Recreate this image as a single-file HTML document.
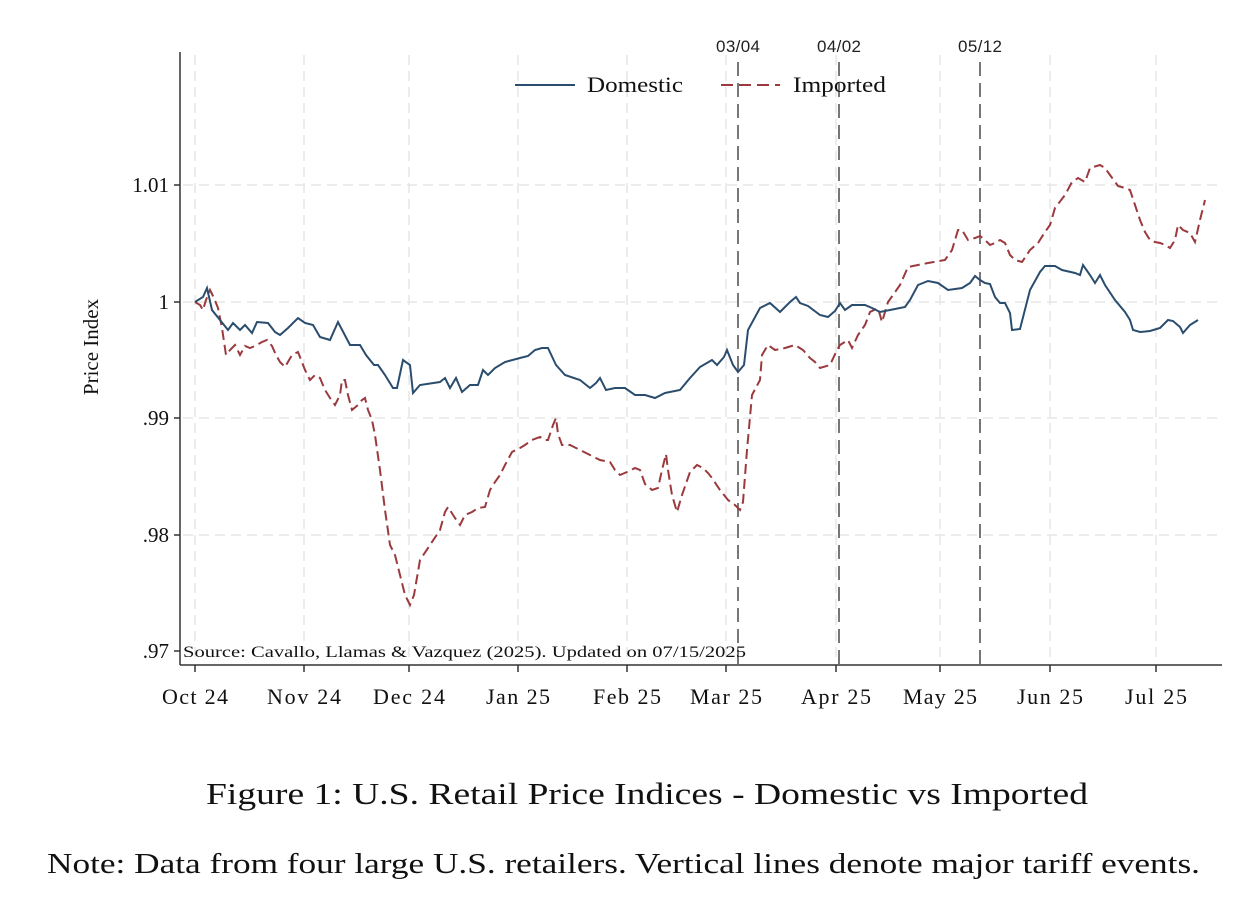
<!DOCTYPE html>
<html><head><style>body{margin:0;background:#fff}</style></head><body>
<svg width="1260" height="907" xmlns="http://www.w3.org/2000/svg" style="display:block">
<rect width="1260" height="907" fill="#fff"/>
<g stroke="#e6e6e6" stroke-width="1.5" stroke-dasharray="10,6">
<line x1="183" x2="1222" y1="185" y2="185"/><line x1="183" x2="1222" y1="302" y2="302"/><line x1="183" x2="1222" y1="418" y2="418"/><line x1="183" x2="1222" y1="535" y2="535"/>
<line x1="195" x2="195" y1="55" y2="663"/><line x1="304" x2="304" y1="55" y2="663"/><line x1="409" x2="409" y1="55" y2="663"/><line x1="518" x2="518" y1="55" y2="663"/><line x1="627" x2="627" y1="55" y2="663"/><line x1="726" x2="726" y1="55" y2="663"/><line x1="836" x2="836" y1="55" y2="663"/><line x1="940" x2="940" y1="55" y2="663"/><line x1="1050" x2="1050" y1="55" y2="663"/><line x1="1156" x2="1156" y1="55" y2="663"/>
</g>
<g stroke="#777" stroke-width="2" stroke-dasharray="14,7">
<line x1="738" x2="738" y1="62" y2="665"/><line x1="839" x2="839" y1="62" y2="665"/><line x1="980" x2="980" y1="62" y2="665"/>
</g>
<g stroke="#333" stroke-width="1.5" fill="none">
<line x1="180" x2="180" y1="52" y2="665"/><line x1="180" x2="1222" y1="665" y2="665"/>
<line x1="174" x2="180" y1="185" y2="185"/><line x1="174" x2="180" y1="302" y2="302"/><line x1="174" x2="180" y1="418" y2="418"/><line x1="174" x2="180" y1="535" y2="535"/><line x1="174" x2="180" y1="651" y2="651"/>
<path d="M195 665v7M304 665v7M409 665v7M518 665v7M627 665v7M726 665v7M836 665v7M940 665v7M1050 665v7M1156 665v7"/>
</g>
<g font-family="Liberation Serif, serif" font-size="21" fill="#111">
<text x="169" y="192" text-anchor="end">1.01</text><text x="169" y="309" text-anchor="end">1</text><text x="169" y="425" text-anchor="end">.99</text><text x="169" y="542" text-anchor="end">.98</text><text x="169" y="658" text-anchor="end">.97</text>
<g font-size="22" text-anchor="middle" lengthAdjust="spacingAndGlyphs"><text x="195" y="704" textLength="66">Oct 24</text><text x="304" y="704" textLength="74">Nov 24</text><text x="409" y="704" textLength="72">Dec 24</text><text x="518" y="704" textLength="64">Jan 25</text><text x="627" y="704" textLength="68">Feb 25</text><text x="726" y="704" textLength="72">Mar 25</text><text x="836" y="704" textLength="70">Apr 25</text><text x="940" y="704" textLength="74">May 25</text><text x="1050" y="704" textLength="66">Jun 25</text><text x="1156" y="704" textLength="62">Jul 25</text></g>
<text transform="translate(98,347) rotate(-90)" text-anchor="middle">Price Index</text>
<text x="587" y="92" font-size="22" textLength="96" lengthAdjust="spacingAndGlyphs">Domestic</text><text x="793" y="92" font-size="22" textLength="93" lengthAdjust="spacingAndGlyphs">Imported</text>
<text x="183" y="657" font-size="16" textLength="563" lengthAdjust="spacingAndGlyphs">Source: Cavallo, Llamas &amp; Vazquez (2025). Updated on 07/15/2025</text>
</g>
<g font-family="Liberation Sans, sans-serif" font-size="17" fill="#222" text-anchor="middle" lengthAdjust="spacingAndGlyphs">
<text x="738" y="52" textLength="44">03/04</text><text x="839" y="52" textLength="44">04/02</text><text x="980" y="52" textLength="44">05/12</text>
</g>
<line x1="515" x2="575" y1="85" y2="85" stroke="#2a4d6e" stroke-width="2"/>
<line x1="721" x2="780" y1="85" y2="85" stroke="#9b3a3e" stroke-width="2" stroke-dasharray="12,6"/>
<polyline fill="none" stroke="#9b3a3e" stroke-width="2" stroke-dasharray="10,5" points="195,302 200,305 203,310 206,300 210,290 214,298 218,308 222,328 226,355 230,350 235,345 240,355 245,346 250,348 255,346 262,342 267,340 272,346 276,355 280,362 285,367 292,355 298,352 305,370 310,380 315,375 320,378 325,390 330,398 335,405 340,395 342,380 345,380 348,395 352,410 358,405 362,400 365,398 368,410 372,420 375,435 380,470 385,510 390,545 395,555 400,575 405,595 410,605 414,595 420,560 430,545 440,530 445,512 448,507 455,518 460,525 465,515 472,512 478,508 485,507 490,490 495,482 500,475 505,465 512,452 520,448 525,445 532,440 540,437 545,440 548,440 553,425 556,418 558,434 562,445 570,445 580,450 590,455 600,460 610,462 615,470 620,475 627,472 635,468 640,470 645,484 652,490 658,488 662,470 666,454 668,470 672,495 677,512 682,495 690,472 697,465 703,468 708,473 712,478 720,490 728,500 735,505 740,510 743,502 747,450 752,395 760,380 762,355 768,345 775,350 785,348 795,345 803,350 810,358 815,362 820,368 830,365 837,350 840,345 848,340 852,348 858,335 865,325 870,312 878,308 882,322 888,302 893,295 900,285 908,267 918,265 928,263 945,260 952,250 958,230 962,230 968,240 975,238 980,236 985,240 990,245 995,243 1000,240 1005,243 1010,255 1015,260 1022,262 1030,250 1038,243 1045,232 1050,225 1055,208 1065,195 1072,182 1078,178 1085,182 1090,168 1100,165 1105,168 1110,175 1118,186 1125,188 1130,190 1135,205 1140,220 1145,232 1150,240 1155,242 1160,243 1165,245 1170,248 1175,240 1178,225 1183,230 1190,233 1195,242 1200,220 1205,200"/>
<polyline fill="none" stroke="#2a4d6e" stroke-width="2" points="195,302 203,297 207,288 212,310 220,320 228,330 233,323 240,330 245,325 252,333 257,322 268,323 275,332 280,335 288,328 298,318 305,323 313,325 320,337 330,340 338,322 350,345 360,345 366,355 374,365 378,365 385,375 393,388 397,388 403,360 410,365 413,393 420,385 440,382 445,378 450,388 456,378 462,392 470,385 478,385 483,370 488,375 495,368 505,362 520,358 528,356 535,350 542,348 548,348 556,365 565,375 580,380 590,388 596,383 600,378 606,390 615,388 625,388 635,395 645,395 655,398 665,393 680,390 690,378 700,367 712,360 717,365 724,357 727,350 733,365 738,372 744,365 748,330 760,308 770,303 780,312 790,302 796,297 800,303 808,306 820,315 828,317 835,311 840,303 845,310 852,305 858,305 865,305 872,308 880,312 890,310 905,307 910,300 918,285 928,281 938,283 948,290 955,289 962,288 970,283 975,276 980,280 985,283 990,284 995,297 1000,303 1005,303 1010,313 1012,330 1020,329 1030,290 1040,272 1045,266 1055,266 1062,270 1075,273 1080,275 1083,265 1090,275 1095,283 1100,275 1105,285 1115,300 1125,312 1130,320 1133,330 1140,332 1150,331 1160,328 1168,320 1173,321 1180,327 1183,333 1190,325 1198,320"/>
<g font-family="Liberation Serif, serif" fill="#111" lengthAdjust="spacingAndGlyphs">
<text x="206" y="804" font-size="31" textLength="882" lengthAdjust="spacingAndGlyphs">Figure 1: U.S. Retail Price Indices - Domestic vs Imported</text>
<text x="47" y="873" font-size="29" textLength="1153" lengthAdjust="spacingAndGlyphs">Note: Data from four large U.S. retailers. Vertical lines denote major tariff events.</text>
</g>
</svg>
</body></html>
